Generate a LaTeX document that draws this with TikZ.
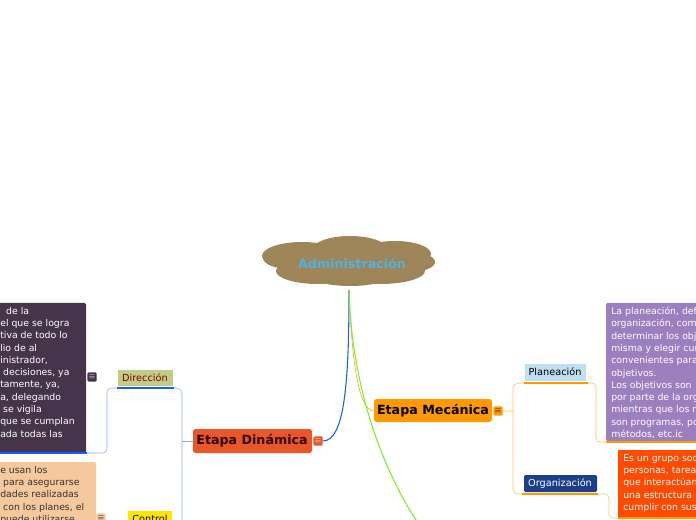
\documentclass[tikz,border=0pt]{standalone}
\usepackage{fontspec}
\setmainfont{DejaVu Sans}
\begin{document}
\begin{tikzpicture}[x=0.75pt,y=-0.75pt,
  txt/.style={font=\fontsize{7}{9.2}\selectfont,align=left,inner sep=0pt,anchor=north west},
  lbl/.style={font=\fontsize{7.3}{9}\selectfont,inner sep=0pt},
  big/.style={font=\bfseries\fontsize{9.5}{11}\selectfont,inner sep=0pt},
  icon/.style={rounded corners=1pt,minimum width=7pt,minimum height=7pt,inner sep=0pt,font=\fontsize{5}{5}\selectfont}]
\definecolor{cloud}{HTML}{9E8559}
\definecolor{adm}{HTML}{4FB3E0}
\definecolor{din}{HTML}{E8562A}
\definecolor{mec}{HTML}{FF9900}
\definecolor{pla}{HTML}{C0DFF0}
\definecolor{org}{HTML}{1B3F8B}
\definecolor{purp}{HTML}{9C7FBF}
\definecolor{redb}{HTML}{FF4A00}
\definecolor{dark}{HTML}{45344A}
\definecolor{dirc}{HTML}{C2CC88}
\definecolor{peach}{HTML}{F5C89E}
\definecolor{ctrl}{HTML}{FFE600}
\definecolor{bl}{HTML}{1A5CFF}
\definecolor{lblue}{HTML}{8AAEFF}
\definecolor{lor}{HTML}{FFC060}
\definecolor{grn}{HTML}{80F020}
\useasboundingbox (0,0) rectangle (696,520);
% cloud
\fill[cloud] (302,256) ellipse (40 and 14) (350,250) ellipse (38 and 14) (395,254) ellipse (36 and 13)
  (318,271) ellipse (42 and 13) (380,271) ellipse (45 and 13) (349,262) ellipse (70 and 14)
  (290,258) ellipse (27 and 11) (410,262) ellipse (25 and 10) (350,278) ellipse (35 and 8);
\node[font=\bfseries\fontsize{9.5}{11}\selectfont,text=adm] (adm) at (352,264) {Administración};
\coordinate (root) at (349,290);
% main nodes
\fill[din,rounded corners=2pt] (193,429) rectangle (312,453);
\node[big,text=black!80!red] (din) at (252,441) {Etapa Dinámica};
\node[icon,fill=din,text=white] (dini) at (318,441) {$\equiv$};
\fill[mec,rounded corners=2pt] (374,399) rectangle (492,422);
\node[big,text=black] (mec) at (433,411) {Etapa Mecánica};
\node[icon,fill=mec,text=black] (meci) at (498,411) {$\equiv$};
\draw[bl,thick] (root) .. controls (349,380) and (345,441) .. (dini.east);
\draw[mec] (root) .. controls (352,370) and (360,411) .. (374,411);
\draw[grn,thick] (root) .. controls (352,400) and (390,480) .. (416,520);
% mecanica branch
\fill[pla] (525,364) rectangle (586,381);
\node[lbl] (pla) at (555,372) {Planeación};
\draw[mec,thick] (524,383) -- (588,383);
\fill[org,rounded corners=1pt] (524,475) rectangle (597,492);
\node[lbl,text=white] (org) at (560,484) {Organización};
\draw[mec,thick] (522,494) -- (598,494);
\draw[lor,rounded corners=4pt] (meci.east) -- (513,411) (524,383) -- (513,383) -- (513,494) -- (522,494);
\fill[purp,rounded corners=1pt] (606,303) rectangle (700,441);
\node[txt,text=white] (pt) at (611,307) {La planeación, define la\\organización, como\\determinar los objetivos\\misma y elegir cursos\\convenientes para\\objetivos.\\Los objetivos son\\por parte de la organización\\mientras que los medios\\son programas, políticas\\métodos, etc.ic};
\draw[mec,thick] (606,442) -- (700,442);
\draw[lor,rounded corners=3pt] (588,383) -- (596,383) -- (596,442) -- (606,442);
\fill[redb] (618,450) rectangle (700,517);
\node[txt,text=white] (rt) at (623,454) {Es un grupo social\\personas, tareas\\que interactúan\\una estructura\\cumplir con sus};
\draw[mec,thick] (618,518) -- (700,518);
\draw[lor,rounded corners=3pt] (598,494) -- (609,494) -- (609,518) -- (618,518);
% dinamica branch
\fill[dirc] (118,370) rectangle (173,386);
\node[lbl,text=red!50!black] (dir) at (145,378) {Dirección};
\draw[bl,thick] (117,388) -- (174,388);
\draw[lblue,rounded corners=4pt] (174,388) -- (182,388) -- (182,525);
\draw[lblue] (182,441) -- (193,441);
\fill[dark,rounded corners=1pt] (-5,303) rectangle (86,453);
\node[txt,text=white] (dt) at (0,307) {\ \ de la\\el que se logra\\tiva de todo lo\\lio de al\\inistrador,\\\ decisiones, ya\\tamente, ya,\\a, delegando\\\ se vigila\\que se cumplan\\ada todas las};
\draw[bl,thick] (-5,453) -- (87,453);
\draw[lblue,rounded corners=3pt] (117,388) -- (107,388) -- (107,453) -- (87,453);
\node[icon,fill=dark,text=white] (diri) at (92,377) {$\equiv$};
\fill[peach,rounded corners=1pt] (-5,462) rectangle (96,525);
\node[txt,text=black!80] (ct) at (0,466) {e usan los\\\ para asegurarse\\dades realizadas\\\ con los planes, el\\puede utilizarse};
\node[icon,fill=peach,text=black] (ctli) at (101,518) {$\equiv$};
\fill[ctrl] (128,511) rectangle (172,525);
\node[lbl] (ctl) at (150,519) {Control};
\end{tikzpicture}
\end{document}
